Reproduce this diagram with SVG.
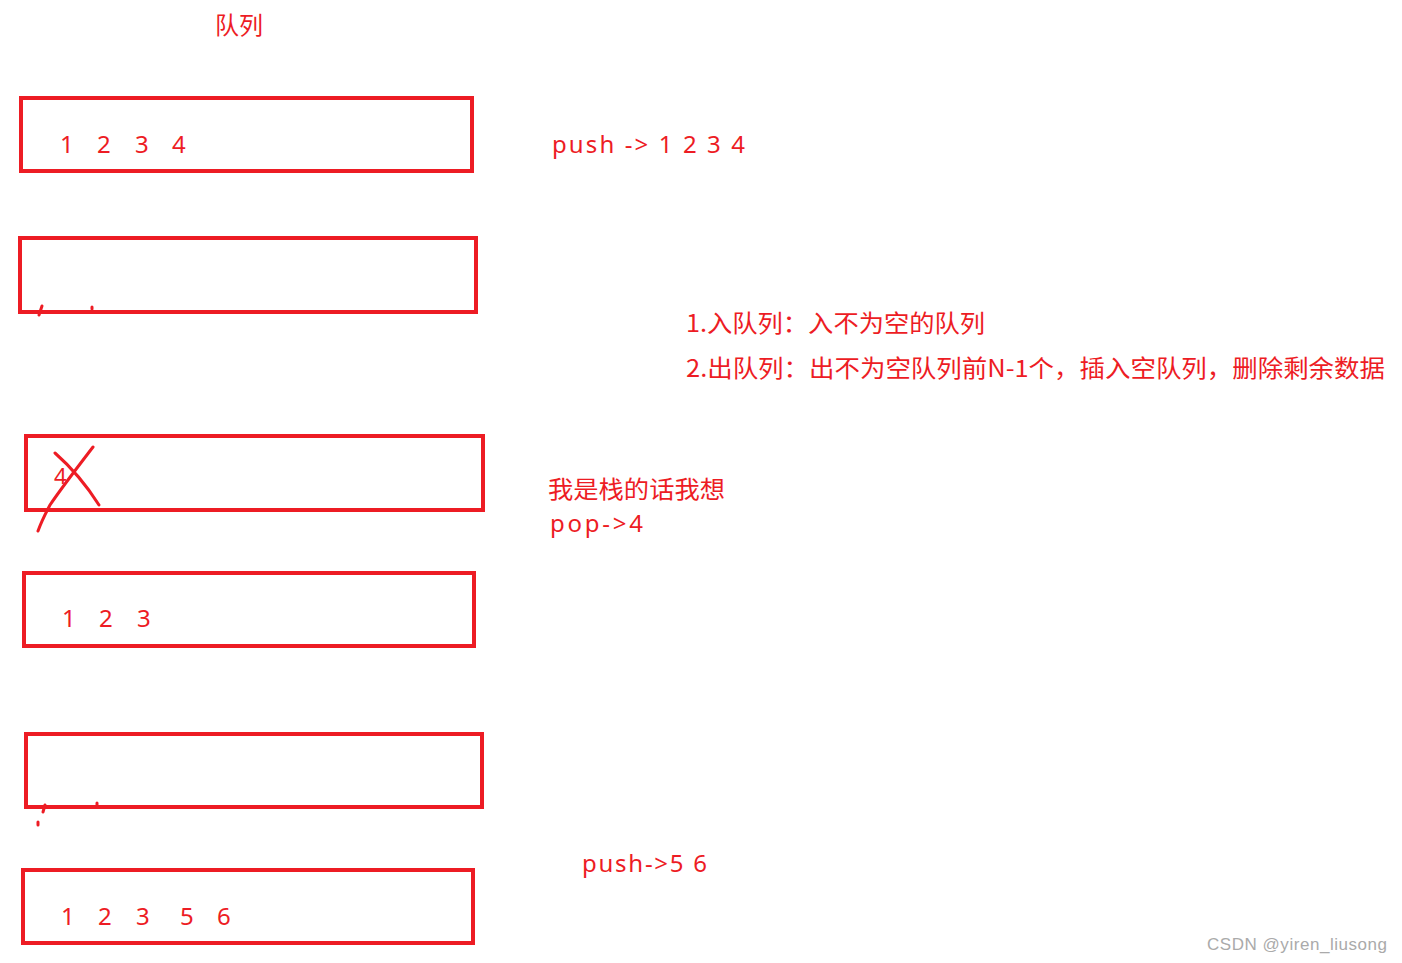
<svg xmlns="http://www.w3.org/2000/svg" width="1402" height="963" viewBox="0 0 1402 963">
<style>
.b{fill:none;stroke:#ed1c24;stroke-width:4}
.t{fill:#ed1c24;font-family:"Microsoft YaHei","Noto Sans","Noto Sans CJK SC",sans-serif;font-size:24px}
.s{fill:#ed1c24;font-family:"Noto Sans CJK SC","Noto Sans",sans-serif;font-size:24px}
.m{fill:none;stroke:#ed1c24;stroke-width:3;stroke-linecap:round}
</style>
<rect width="1402" height="963" fill="#fff"/>
<text class="t" x="215" y="34">队列</text>
<g id="q1"><rect class="b" x="21" y="98" width="451" height="73"/>
<text class="t" x="60" y="153">1</text><text class="t" x="97" y="153">2</text><text class="t" x="135" y="153">3</text><text class="t" x="172" y="153">4</text></g>
<g id="q2"><rect class="b" x="20" y="238" width="456" height="74"/>
<path class="m" d="M42 306 L39 315 M92 307 L92 309"/></g>
<g id="q3"><rect class="b" x="26" y="436" width="457" height="74"/>
<text class="t" x="54" y="484" style="font-size:22px">4</text>
<path class="m" d="M55 453 Q80 475 99 505 M93 447 Q60 490 50 505 Q42 520 38 531"/></g>
<g id="q4"><rect class="b" x="24" y="573" width="450" height="73"/>
<text class="t" x="62" y="627">1</text><text class="t" x="99" y="627">2</text><text class="t" x="137" y="627">3</text></g>
<g id="q5"><rect class="b" x="26" y="734" width="456" height="73"/>
<path class="m" d="M45 805 L43 812 M97 803 L97 805 M38 822 L38 825"/></g>
<g id="q6"><rect class="b" x="23" y="870" width="450" height="73"/>
<text class="t" x="61" y="925">1</text><text class="t" x="98" y="925">2</text><text class="t" x="136" y="925">3</text><text class="t" x="180" y="925">5</text><text class="t" x="217" y="925">6</text></g>
<text class="t" x="552" y="153" textLength="193" lengthAdjust="spacing">push -&gt;  1 2 3 4</text>
<text class="s" x="686" y="332" textLength="299" lengthAdjust="spacingAndGlyphs">1.入队列：入不为空的队列</text>
<text class="s" x="686" y="377" textLength="699" lengthAdjust="spacingAndGlyphs">2.出队列：出不为空队列前N-1个，插入空队列，删除剩余数据</text>
<text class="s" x="548" y="498" textLength="177" lengthAdjust="spacingAndGlyphs">我是栈的话我想</text>
<text class="t" x="550" y="532" textLength="93" lengthAdjust="spacing">pop-&gt;4</text>
<text class="t" x="582" y="872" textLength="125" lengthAdjust="spacing">push-&gt;5 6</text>
<text x="1207" y="950" textLength="180" style="fill:#aaa;font-family:'Liberation Sans',sans-serif;font-size:17px">CSDN @yiren_liusong</text>
</svg>
